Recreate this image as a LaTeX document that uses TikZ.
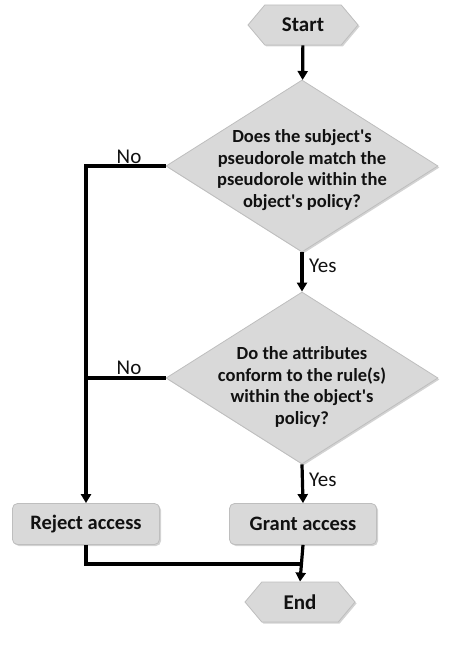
\documentclass[tikz,border=0pt]{standalone}
\usepackage{fontspec}
\setmainfont{Carlito}
\usetikzlibrary{shapes.geometric,shapes.symbols,shadows,arrows.meta}
\definecolor{boxfill}{HTML}{D9D9D9}
\definecolor{boxline}{HTML}{BEBEBE}
\definecolor{ink}{HTML}{111111}
\begin{document}
\begin{tikzpicture}[x=1pt,y=-1pt,
  every node/.style={text=ink},
  shapebase/.style={fill=boxfill,draw=boxline,line width=0.8pt,
    drop shadow={opacity=0.35,shadow xshift=1.5pt,shadow yshift=-1.5pt,fill=gray}},
  terminal/.style={shapebase,shape=signal,signal to=west and east,signal pointer angle=100,
    minimum width=110pt,minimum height=40pt,inner sep=0pt,font=\fontsize{21}{24}\selectfont\bfseries},
  decision/.style={shapebase,shape=diamond,minimum width=272pt,minimum height=172pt,inner sep=0pt},
  dtext/.style={align=center,inner sep=0pt,font=\fontsize{18.5}{21.7}\selectfont\bfseries},
  process/.style={shapebase,rounded corners=5pt,minimum width=147pt,minimum height=41pt,
    inner sep=0pt,font=\fontsize{20.5}{24}\selectfont\bfseries},
  conn/.style={draw=black,line width=3.2pt},
  arr/.style={conn,-{Triangle[width=10pt,length=9pt]}},
  lbl/.style={font=\fontsize{21}{24}\selectfont,inner sep=0pt}]
\useasboundingbox (0,0) rectangle (474,660);
\node[terminal] (start) at (303,25) {Start};
\node[decision] (d1) at (302,166) {};
\node[dtext] (t1) at (302,170) {Does the subject\textquotesingle s\\pseudorole match the\\pseudorole within the\\object\textquotesingle s policy?};
\node[decision] (d2) at (302,378) {};
\node[dtext] (t2) at (302,387) {Do the attributes\\conform to the rule(s)\\within the object\textquotesingle s\\policy?};
\node[process] (reject) at (86,524) {Reject access};
\node[process] (grant) at (303,524) {Grant access};
\node[terminal] (end) at (300,602) {End};
\coordinate (join) at (303,564);
\draw[arr] (start) -- (d1);
\draw[arr] (d1.south) -- (d2.north);
\draw[arr] (d2.south) -- (grant.north);
\draw[arr] (d1.west) -| (reject.north);
\draw[conn] (d2.west) -- (d2.west -| reject.north);
\draw[conn] (reject.south) |- (join);
\draw[arr] (grant.south) -- (end.north);
\node[lbl,anchor=west] (yes1) at (309,266) {Yes};
\node[lbl,anchor=west] (yes2) at (309,480) {Yes};
\node[lbl] (no1) at (129,157) {No};
\node[lbl] (no2) at (129,368) {No};
\end{tikzpicture}
\end{document}
